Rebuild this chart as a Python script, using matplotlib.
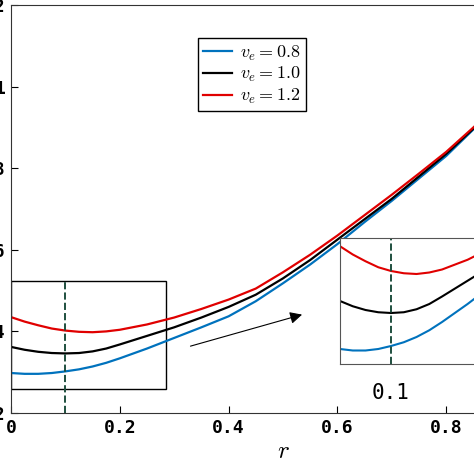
import matplotlib.pyplot as plt
import numpy as np

plt.rcParams['mathtext.fontset'] = 'cm'

# data
r = [0, 0.025, 0.05, 0.075, 0.1, 0.125, 0.15, 0.175, 0.2, 0.25, 0.3, 0.35, 0.4, 0.45,
     0.5, 0.55, 0.6, 0.65, 0.7, 0.75, 0.8, 0.85, 0.9, 1.0]
v08 = [0.298, 0.296, 0.296, 0.298, 0.302, 0.307, 0.314, 0.323, 0.334, 0.358, 0.384, 0.41, 0.437,
       0.474, 0.518, 0.564, 0.614, 0.668, 0.72, 0.775, 0.83, 0.895, 0.96, 1.09]
v10 = [0.362, 0.355, 0.35, 0.347, 0.346, 0.347, 0.351, 0.358, 0.368, 0.389, 0.41, 0.434, 0.46,
       0.49, 0.53, 0.575, 0.625, 0.675, 0.725, 0.78, 0.835, 0.897, 0.96, 1.09]
v12 = [0.435, 0.424, 0.415, 0.407, 0.402, 0.399, 0.398, 0.4, 0.404, 0.417, 0.434, 0.455, 0.478,
       0.505, 0.545, 0.588, 0.635, 0.685, 0.735, 0.787, 0.84, 0.9, 0.962, 1.09]
series = [(v08, '#0072BD', r'$v_e = 0.8$'), (v10, 'black', r'$v_e = 1.0$'), (v12, '#E00000', r'$v_e = 1.2$')]
xticks = [0, 0.2, 0.4, 0.6, 0.8]
yticks = [0.2, 0.4, 0.6, 0.8, 1.0, 1.2]

W = 474.0
fig = plt.figure(figsize=(4.74, 4.74), dpi=100)
ax = fig.add_axes([11 / W, 1 - 413 / W, 544 / W, 408 / W])
for y, c, lab in series:
    ax.plot(r, y, color=c, lw=1.6, label=lab)
ax.set_xlim(0, 1)
ax.set_ylim(0.2, 1.2)
ax.set_xticks(xticks)
ax.set_yticks(yticks)
ax.set_xticklabels(['0', '0.2', '0.4', '0.6', '0.8'], family='DejaVu Sans Mono', fontsize=13, weight='bold')
ax.set_yticklabels(['0.2', '0.4', '0.6', '0.8', '1', '1.2'], family='DejaVu Sans Mono', fontsize=13, weight='bold')
ax.tick_params(direction='in', length=5, pad=4)
ax.set_xlabel(r'$r$', fontsize=18, labelpad=2)
for s in ax.spines.values():
    s.set_color('#333333')
leg = ax.legend(loc='upper left', bbox_to_anchor=(178 / 544, 1 - 24 / 408), fontsize=13,
                fancybox=False, edgecolor='black', framealpha=1, handlelength=1.6,
                handletextpad=0.4, borderpad=0.3, labelspacing=0.15)
leg.get_frame().set_linewidth(1.0)

# zoom rectangle and marker in main axes
ax.add_patch(plt.Rectangle((0, 0.259), 0.285, 0.265, fill=False, ec='black', lw=1.0))
ax.plot([0.1, 0.1], [0.2, 0.524], ls='--', color='#1f4f3f', lw=1.4)
ax.annotate('', xy=(0.54, 0.443), xytext=(0.325, 0.362),
            arrowprops=dict(arrowstyle='-|>', color='black', lw=0.8, mutation_scale=18))

# inset
ins = fig.add_axes([340 / W, 1 - 364 / W, 148 / W, 126 / W])
for y, c, lab in series:
    ins.plot(r, y, color=c, lw=1.5)
ins.set_xlim(0, 0.29)
ins.set_ylim(0.278, 0.446)
ins.axvline(0.1, ls='--', color='#1f4f3f', lw=1.4)
ins.set_xticks([0.1])
ins.set_xticklabels(['0.1'], family='DejaVu Sans Mono', fontsize=15)
ins.set_yticks([])
ins.tick_params(length=0, pad=14)
for s in ins.spines.values():
    s.set_color('#555555')

fig.savefig('out.png', dpi=100)
